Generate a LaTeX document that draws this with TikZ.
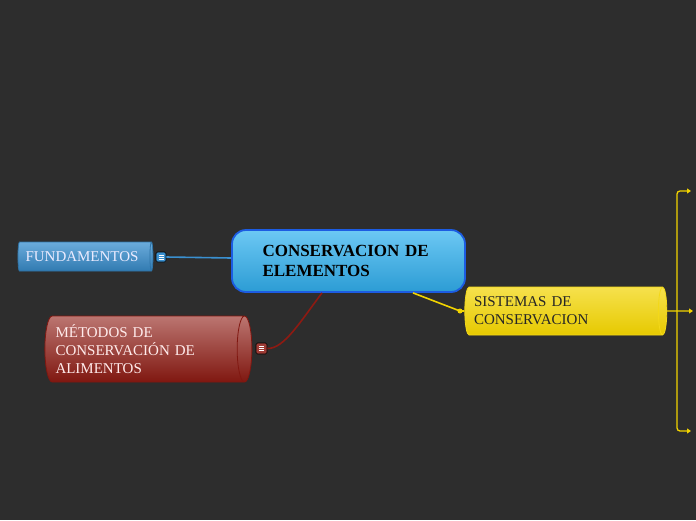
\documentclass[tikz,border=0pt]{standalone}
\usepackage{fontspec}
\setmainfont{Liberation Serif}
\usetikzlibrary{shapes.geometric,arrows.meta}
\definecolor{fondo}{HTML}{2D2D2D}
\definecolor{azul}{HTML}{3A90D0}
\definecolor{rojo}{HTML}{8E1A12}
\definecolor{amarillo}{HTML}{F2D400}
\definecolor{celeste1}{HTML}{6CC8F4}
\definecolor{celeste2}{HTML}{2C9CD4}
\definecolor{borde}{HTML}{1C5CE2}
\begin{document}
\begin{tikzpicture}[x=1pt,y=-1pt,>={Triangle[width=5pt,length=4pt]},
    tema/.style={cylinder, shape aspect=0.3, draw, line width=0.8pt, align=left,
        font=\fontsize{15}{18}\selectfont, inner xsep=3pt, inner ysep=0pt},
    icono/.style={draw, rounded corners=1.5pt, minimum size=10pt, inner sep=0pt, line width=0.6pt,
        path picture={\foreach \k in {-2,0,2}
            \draw[white,line width=0.5pt]([xshift=-2.5pt,yshift=\k pt]path picture bounding box.center)--++(5pt,0);}},
    enlace/.style={line width=1.6pt}]
\fill[fondo](0,0)rectangle(696,520);
\useasboundingbox(0,0)rectangle(696,520);

% idea central
\node[draw=borde, line width=1.8pt, rounded corners=14pt, top color=celeste1,
    bottom color=celeste2, minimum width=233pt, minimum height=62pt, text width=172pt, align=left,
    font=\bfseries\fontsize{17}{20}\selectfont](central) at (348.5,261){CONSERVACION DE\\ELEMENTOS};

% ramas (en el cilindro el alto va a lo largo del eje)
\node[tema, minimum height=135pt, minimum width=29pt, text width=118pt, draw=azul!80!black,
    top color=azul!75!white, bottom color=azul!85!black, text=blue!8!white](fund) at (84.5,256.5){FUNDAMENTOS};
\node[tema, minimum height=207pt, minimum width=66pt, text width=178pt, draw=rojo!90!black,
    top color=rojo!60!white, bottom color=rojo!90!black, text=red!8!white](metodos) at (144.5,349)
    {MÉTODOS DE\\CONSERVACIÓN DE\\ALIMENTOS};
\node[tema, minimum height=202pt, minimum width=48pt, text width=179pt, draw=amarillo!90!white,
    top color=amarillo!70!white, bottom color=amarillo!95!black, text=black!85](sistemas) at (563.5,311)
    {SISTEMAS DE\\CONSERVACION};

\node[icono, fill=azul](ifund) at (161,257){};
\node[icono, fill=rojo!85!white, minimum size=11pt](imet) at (261.5,348.5){};
\fill[amarillo](460,311)circle(2.5pt)coordinate(punto);

% conectores
\draw[enlace, azul](ifund.east)--([yshift=3pt]central.west);
\draw[enlace, rojo](imet.east)..controls(284,349)and(300,322)..([xshift=-26.5pt]central.south);
\draw[enlace, amarillo]([xshift=64.5pt]central.south)--(punto)--(sistemas.west);

\coordinate(arriba) at (691,191);
\coordinate(abajo) at (691,431);
\coordinate(medio) at (693,311);
\draw[enlace, amarillo, line width=1.3pt, ->](sistemas.east)--(medio);
\draw[enlace, amarillo, line width=1.3pt, rounded corners=3pt, <->](arriba)-|(677,311)|-(abajo);
\end{tikzpicture}
\end{document}
